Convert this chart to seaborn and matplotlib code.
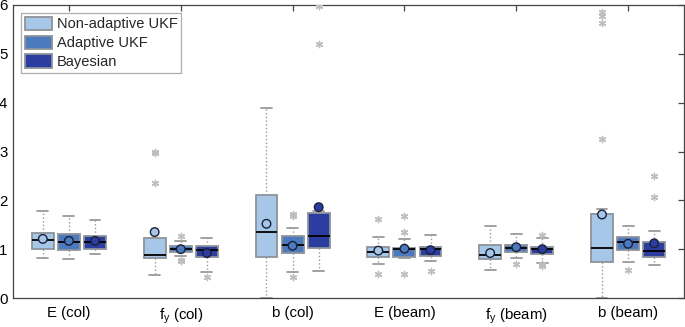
import numpy as np
import pandas as pd
import seaborn as sns
import matplotlib.pyplot as plt

# categories
params = ["E (col)", "f$_y$ (col)", "b (col)", "E (beam)", "f$_y$ (beam)", "b (beam)"]
methods = ["Non-adaptive UKF", "Adaptive UKF", "Bayesian"]
colors = ["#a7c7e9", "#4b7bbe", "#2b3d9e"]

# five-number summaries: lower whisker, q1, median, q3, upper whisker
nonadaptive_stats = [
    [0.81, 1.00, 1.19, 1.34, 1.78],
    [0.47, 0.81, 0.89, 1.22, 1.22],
    [0.01, 0.83, 1.35, 2.10, 3.90],
    [0.69, 0.84, 0.94, 1.05, 1.24],
    [0.57, 0.79, 0.89, 1.09, 1.47],
    [0.00, 0.73, 1.03, 1.72, 1.82],
]
adaptive_stats = [
    [0.80, 0.99, 1.15, 1.31, 1.67],
    [0.85, 0.94, 1.00, 1.06, 1.17],
    [0.54, 0.92, 1.09, 1.27, 1.43],
    [0.82, 0.84, 1.00, 1.03, 1.20],
    [0.81, 0.94, 1.02, 1.09, 1.31],
    [0.74, 0.98, 1.15, 1.25, 1.47],
]
bayesian_stats = [
    [0.90, 1.01, 1.14, 1.26, 1.60],
    [0.53, 0.83, 0.98, 1.06, 1.22],
    [0.56, 1.03, 1.26, 1.74, 1.78],
    [0.76, 0.87, 1.00, 1.04, 1.28],
    [0.72, 0.91, 1.00, 1.05, 1.23],
    [0.67, 0.84, 0.96, 1.15, 1.37],
]

# means (circles)
nonadaptive_mean = [1.21, 1.35, 1.52, 0.97, 0.92, 1.71]
adaptive_mean = [1.17, 1.00, 1.07, 1.01, 1.04, 1.11]
bayesian_mean = [1.17, 0.92, 1.86, 0.98, 1.00, 1.12]

# outliers (asterisks)
nonadaptive_fliers = [[], [3.00, 2.96, 2.36], [], [1.62, 0.50], [], [5.85, 5.78, 5.64, 3.26]]
adaptive_fliers = [[], [1.27, 0.78, 0.76], [1.71, 1.68, 0.44], [1.68, 1.35, 0.50], [0.70], [0.57]]
bayesian_fliers = [[], [0.44], [5.98, 5.20], [0.55], [1.30, 0.70, 0.65], [2.50, 2.06]]

all_stats = [nonadaptive_stats, adaptive_stats, bayesian_stats]
all_means = [nonadaptive_mean, adaptive_mean, bayesian_mean]
all_fliers = [nonadaptive_fliers, adaptive_fliers, bayesian_fliers]

sns.set_theme(style="white")
plt.rcParams['font.family'] = ['Liberation Sans', 'DejaVu Sans']
plt.rcParams['mathtext.default'] = 'regular'

group_width = 0.7
step = group_width / len(methods)

box_rows, mean_rows, flier_rows = [], [], []
for k, m in enumerate(methods):
    off = (k - (len(methods) - 1) / 2) * step
    for i, p in enumerate(params):
        for v in all_stats[k][i]:
            box_rows.append({"param": p, "method": m, "value": v})
        mean_rows.append({"pos": i + off, "method": m, "value": all_means[k][i]})
        for v in all_fliers[k][i]:
            flier_rows.append({"pos": i + off, "method": m, "value": v})
box_df = pd.DataFrame(box_rows)
mean_df = pd.DataFrame(mean_rows)
flier_df = pd.DataFrame(flier_rows)

fig = plt.figure(figsize=(6.85, 3.27), dpi=100)
ax = fig.add_axes([13 / 685, 29 / 327, 671 / 685, 293 / 327])

sns.boxplot(data=box_df, x="param", y="value", hue="method", order=params,
            hue_order=methods, palette=colors, saturation=1, width=group_width,
            gap=0.16, whis=np.inf, showfliers=False, linecolor="#8d939b",
            linewidth=1.3, legend=True, ax=ax,
            medianprops={"color": "black", "linewidth": 1.3},
            whiskerprops={"linestyle": ":", "color": "#9a9a9a", "linewidth": 1.0},
            capprops={"color": "#9a9a9a", "linewidth": 1.3})

sns.scatterplot(data=flier_df, x="pos", y="value", marker=(6, 2, 0), color="#bdbdbd",
                s=20, linewidth=1.0, legend=False, ax=ax, zorder=3)
sns.scatterplot(data=mean_df, x="pos", y="value", hue="method", hue_order=methods,
                palette=colors, s=38, edgecolor="#1b1f3a", linewidth=1.0,
                legend=False, ax=ax, zorder=4)

ax.set_xlim(-0.5, len(params) - 0.5)
ax.set_ylim(0, 6)
ax.set_yticks(range(0, 7))
ax.set_xticks(range(len(params)))
ax.set_xticklabels(params)
ax.set_xlabel("")
ax.set_ylabel("")
ax.tick_params(direction="in", top=True, right=True, length=4.5, width=0.9,
               color="#444444", labelsize=10.8, labelcolor="black")
ax.tick_params(axis="x", pad=6)
ax.tick_params(axis="y", pad=4)
for s in ax.spines.values():
    s.set_color("#444444")
    s.set_linewidth(0.9)

handles, labels = ax.get_legend_handles_labels()
leg = ax.legend(handles, labels, loc="upper left", fontsize=10.5, frameon=True,
                fancybox=False, edgecolor="#9a9a9a", handlelength=1.9,
                handleheight=1.0, handletextpad=0.3, labelspacing=0.3,
                borderpad=0.25, borderaxespad=0.55)
leg.get_frame().set_linewidth(0.9)

fig.savefig("out.png", dpi=100)
